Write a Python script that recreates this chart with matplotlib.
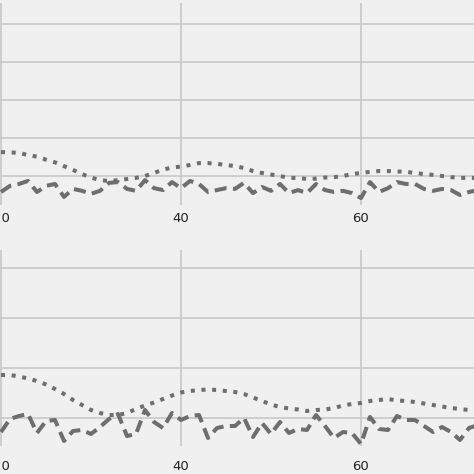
import numpy as np
import matplotlib
matplotlib.use("Agg")
import matplotlib.pyplot as plt

# ---- data ----
top_dashed = [0.58, 0.74, 0.79, 0.87, 0.58, 0.74, 0.79, 0.45, 0.66, 0.61,
              0.53, 0.61, 0.82, 0.84, 0.66, 0.61, 0.89, 0.68, 0.63, 0.84,
              0.68, 0.87, 0.79, 0.58, 0.63, 0.68, 0.66, 0.82, 0.55, 0.71,
              0.61, 0.79, 0.55, 0.63, 0.55, 0.79, 0.63, 0.58, 0.61, 0.55,
              0.42, 0.84, 0.58, 0.68, 0.84, 0.79, 0.79, 0.66, 0.61, 0.66,
              0.63, 0.50, 0.58, 0.63]
top_dotted = [1.63, 1.62, 1.61, 1.55, 1.51, 1.43, 1.36, 1.26, 1.16, 1.05,
              0.96, 0.89, 0.87, 0.89, 0.92, 0.95, 1.00, 1.08, 1.17, 1.22,
              1.25, 1.29, 1.34, 1.34, 1.32, 1.29, 1.26, 1.21, 1.13, 1.08,
              1.04, 1.00, 0.95, 0.95, 0.92, 0.93, 0.96, 0.97, 1.00, 1.05,
              1.08, 1.11, 1.13, 1.13, 1.12, 1.11, 1.08, 1.05, 1.03, 1.00,
              0.97, 0.95, 0.95, 0.95]
bot_dashed = [0.72, 0.98, 1.04, 1.08, 0.70, 0.94, 0.96, 0.54, 0.74, 0.76,
              0.68, 0.82, 0.98, 1.08, 0.64, 0.68, 1.16, 0.92, 0.80, 1.10,
              0.96, 1.04, 1.06, 0.60, 0.80, 0.84, 0.84, 1.00, 0.62, 0.90,
              0.68, 0.92, 0.70, 0.78, 0.76, 1.06, 0.84, 0.60, 0.72, 0.70,
              0.48, 1.02, 0.78, 0.76, 1.04, 0.96, 0.96, 0.84, 0.72, 0.82,
              0.72, 0.56, 0.80, 0.86]
bot_dotted = [1.86, 1.86, 1.83, 1.79, 1.74, 1.67, 1.58, 1.48, 1.36, 1.26,
              1.16, 1.10, 1.06, 1.06, 1.10, 1.18, 1.25, 1.31, 1.38, 1.45,
              1.51, 1.54, 1.56, 1.57, 1.56, 1.54, 1.52, 1.48, 1.41, 1.34,
              1.27, 1.22, 1.19, 1.17, 1.14, 1.16, 1.17, 1.20, 1.25, 1.28,
              1.30, 1.34, 1.36, 1.38, 1.35, 1.34, 1.32, 1.29, 1.26, 1.23,
              1.20, 1.18, 1.16, 1.15]
x_start = 20
x_ticks = [20, 40, 60]
top_yticks = [1, 2, 3, 4, 5]
bot_yticks = [1, 2, 3, 4]

x = np.arange(x_start, x_start + len(top_dashed))

BG = "#f0f0f0"
GRID = "#cbcbcb"
LINE = "#6e6e6e"

W = H = 474
fig = plt.figure(figsize=(4.74, 4.74), dpi=100, facecolor=BG)

def px_axes(top_px, bottom_px):
    return fig.add_axes([0.0, 1 - bottom_px / H, 1.0, (bottom_px - top_px) / H])

xlim = (x_start - 1 / 9, x_start + 473 / 9)

ax1 = px_axes(3, 205)
ax2 = px_axes(250, 446)

panels = [
    (ax1, top_dashed, top_dotted, top_yticks, ((214 - 205) / 38, (214 - 3) / 38), 5.0),
    (ax2, bot_dashed, bot_dotted, bot_yticks, ((468 - 446) / 50, (468 - 250) / 50), 10.0),
]
for ax, dsh, dot, yt, ylim, pad in panels:
    ax.set_facecolor(BG)
    ax.plot(x, dsh, linestyle="--", color=LINE, lw=2.9, dashes=(3.0, 1.6))
    ax.plot(x, dot, linestyle=":", color=LINE, lw=2.9)
    ax.set_xticks(x_ticks)
    ax.set_yticks(yt)
    ax.set_xlim(*xlim)
    ax.set_ylim(*ylim)
    ax.grid(True, color=GRID, lw=1.3)
    ax.set_axisbelow(True)
    for s in ax.spines.values():
        s.set_visible(False)
    ax.tick_params(axis="both", length=0, labelleft=False, labelsize=9.5,
                   labelcolor="#222222", pad=pad)

fig.savefig("out.png", dpi=100, facecolor=BG)
